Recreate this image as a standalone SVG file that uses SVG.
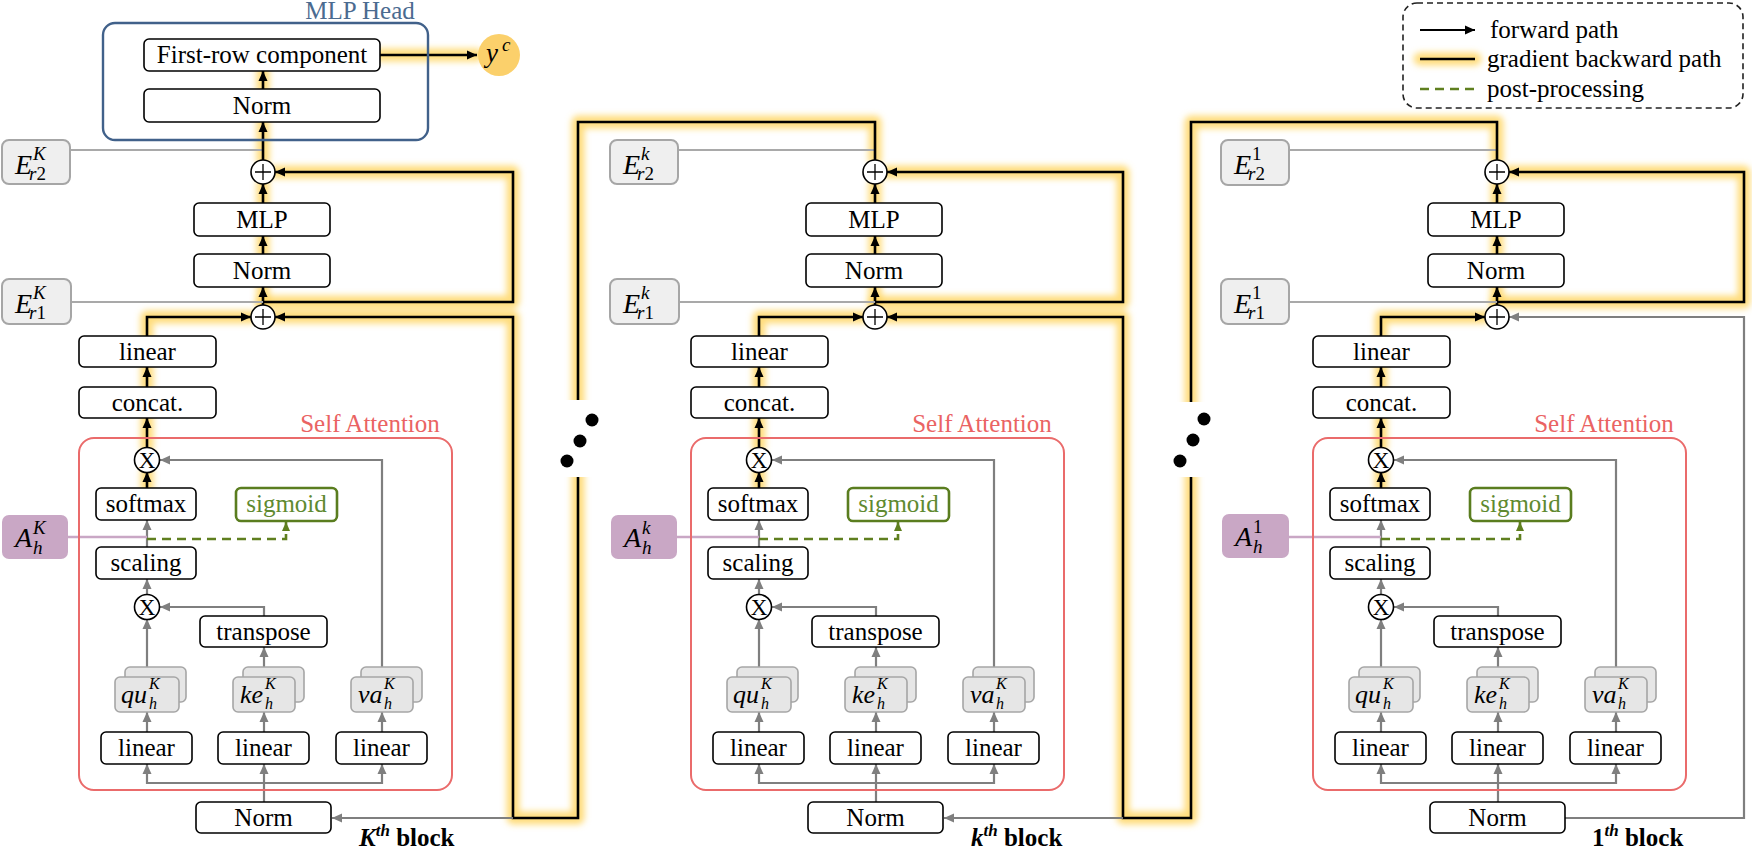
<svg xmlns="http://www.w3.org/2000/svg" xmlns:xlink="http://www.w3.org/1999/xlink" width="1752" height="853" viewBox="0 0 1752 853" font-family="'Liberation Serif', 'Times New Roman', serif">
<style>
text{font-family:"Liberation Serif","Times New Roman",Times,serif;fill:#000}
.lb{font-size:25px;text-anchor:middle}
.bx{fill:#fff;stroke:#000;stroke-width:1.6}
.eb{fill:#efefef;stroke:#a6a6a6;stroke-width:2}
.qb{fill:#e6e6e6;stroke:#a6a6a6;stroke-width:1.6}
.ab{fill:#c9a7c5}
.sa{fill:none;stroke:#ea6b6b;stroke-width:2}
.sal{font-size:25px;fill:#ea6363;text-anchor:middle}
.sg{fill:#fff;stroke:#5a7d1f;stroke-width:2.6}
.sgt{fill:#5f8a30;font-size:25px;text-anchor:middle}
.op{fill:#fff;stroke:#000;stroke-width:1.6}
.opl{stroke:#000;stroke-width:1.3}
.bk{fill:none;stroke:#000;stroke-width:2.6;marker-end:url(#ak)}
.bkn{fill:none;stroke:#000;stroke-width:2.6}
.gr{fill:none;stroke:#7f7f7f;stroke-width:2.2;marker-end:url(#ag)}
.gl{fill:none;stroke:#ffd45c;stroke-opacity:.8;stroke-width:13;stroke-linejoin:round;stroke-linecap:round}
.el{stroke:#a9a9a9;stroke-width:2.2;fill:none}
.al{stroke:#c9a7c5;stroke-width:2.6;fill:none}
.gd{stroke:#5f7f1f;stroke-width:2.6;stroke-dasharray:9 6;fill:none;marker-end:url(#agr)}
.it{font-style:italic}
.up{font-style:normal}
.mb{font-size:28px;font-style:italic}
.sp{font-size:19px}
.qs{font-size:26px;font-style:italic}
.qss{font-size:16px}
.blk{font-size:25px;font-weight:bold}
.lg{font-size:25px}
</style>
<defs>
<marker id="ak" markerUnits="userSpaceOnUse" markerWidth="11" markerHeight="10" refX="10" refY="5" orient="auto"><path d="M0,0.5 L10,5 L0,9.5z" fill="#000"/></marker>
<marker id="ag" markerUnits="userSpaceOnUse" markerWidth="11" markerHeight="10" refX="10" refY="5" orient="auto"><path d="M0,0.5 L10,5 L0,9.5z" fill="#7f7f7f"/></marker>
<marker id="agr" markerUnits="userSpaceOnUse" markerWidth="10" markerHeight="9" refX="9" refY="4.5" orient="auto"><path d="M0,0.5 L9,4.5 L0,8.5z" fill="#5f7f1f"/></marker>
<filter id="blur" filterUnits="userSpaceOnUse" x="-200" y="-200" width="2200" height="1300"><feGaussianBlur stdDeviation="3"/></filter>
<g id="conn-block">
  <g filter="url(#blur)">
    <path class="gl" d="M263,305 V287"/>
    <path class="gl" d="M263,254 V236"/>
    <path class="gl" d="M263,203 V184"/>
    <path class="gl" d="M147,336 V317 H251"/>
    <path class="gl" d="M147,387 V367"/>
    <path class="gl" d="M147,447 V418"/>
    <path class="gl" d="M147,488 V472"/>
  </g>
  <path class="bk" d="M263,305 V287"/>
  <path class="bk" d="M263,254 V236"/>
  <path class="bk" d="M263,203 V184"/>
  <path class="bk" d="M147,336 V317 H251"/>
  <path class="bk" d="M147,387 V367"/>
  <path class="bk" d="M147,447 V418"/>
  <path class="bk" d="M147,488 V472"/>
  <path class="gr" d="M147,547 V520"/>
  <path class="gr" d="M147,594 V579"/>
  <path class="gr" d="M264,616 V607 H160"/>
  <path class="gr" d="M147,667 V619"/>
  <path class="gr" d="M264,667 V647"/>
  <path class="gr" d="M382,667 V460 H160"/>
  <path class="gr" d="M147,732 V712"/>
  <path class="gr" d="M264,732 V712"/>
  <path class="gr" d="M382,732 V712"/>
  <path class="gr" d="M264,802 V764"/>
  <path class="gr" d="M264,783 H147 V764"/>
  <path class="gr" d="M264,783 H382 V764"/>
  <path class="el" d="M40,150 H263"/>
  <path class="el" d="M40,302 H263"/>
  <path class="al" d="M40,537 H147"/>
  <path class="gd" d="M147,539 H286 V522"/>
</g>
</defs>
<rect x="0" y="0" width="1752" height="853" fill="#fff"/>

<g id="connectors">
  <g filter="url(#blur)">
    <path class="gl" d="M263,160 V122"/>
    <path class="gl" d="M263,89 V71"/>
    <path class="gl" d="M380,55 H477"/>
    <path class="gl" d="M263,302 H513 V172 H275"/>
    <path class="gl" d="M875,160 V122 H578 V818 H513 V317 H275"/>
    <path class="gl" d="M875,302 H1123 V172 H887"/>
    <path class="gl" d="M1497,160 V122 H1191 V818 H1123 V317 H887"/>
    <path class="gl" d="M1497,302 H1744 V172 H1509"/>
  </g>
  <use xlink:href="#conn-block" href="#conn-block"/>
  <use xlink:href="#conn-block" href="#conn-block" x="612"/>
  <use xlink:href="#conn-block" href="#conn-block" x="1234"/>
  <path class="bk" d="M263,160 V122"/>
  <path class="bk" d="M263,89 V71"/>
  <path class="bk" d="M380,55 H477"/>
  <path class="bk" d="M263,302 H513 V172 H275"/>
  <path class="bk" d="M875,160 V122 H578 V818 H513 V317 H275"/>
  <path class="bk" d="M875,302 H1123 V172 H887"/>
  <path class="bk" d="M1497,160 V122 H1191 V818 H1123 V317 H887"/>
  <path class="bk" d="M1497,302 H1744 V172 H1509"/>
  <path class="gr" d="M513,818 H332"/>
  <path class="gr" d="M1123,818 H944"/>
  <path class="gr" d="M1565,818 H1744 V317 H1509"/>
</g>

<g id="ellipsis">
  <rect x="557" y="400" width="40" height="77" fill="#fff"/>
  <circle cx="592" cy="420" r="6.5"/>
  <circle cx="580" cy="441" r="6.5"/>
  <circle cx="567" cy="461" r="6.5"/>
  <rect x="1170" y="402" width="40" height="75" fill="#fff"/>
  <circle cx="1204" cy="419" r="6.5"/>
  <circle cx="1193" cy="440" r="6.5"/>
  <circle cx="1180" cy="461" r="6.5"/>
</g>

<g id="mlp-head">
  <rect x="103" y="23" width="325" height="117" rx="12" fill="none" stroke="#41618a" stroke-width="2.4"/>
  <text x="360" y="19" font-size="25" text-anchor="middle" style="fill:#4b6b90">MLP Head</text>
</g>
<g id="first-row"><rect class="bx" x="144" y="39" width="236" height="32" rx="5"/><text class="lb" x="262" y="63">First-row component</text></g>
<g id="head-norm"><rect class="bx" x="144" y="89" width="236" height="33" rx="5"/><text class="lb" x="262" y="114">Norm</text></g>
<g id="yc"><circle cx="499" cy="55" r="21" fill="#fbd06b"/><text x="486" y="62" font-size="27" class="it">y<tspan class="sp" x="502" y="51">c</tspan></text></g>

<!-- Block K -->
<g id="block-K">
  <g id="K-er2"><rect class="eb" x="2" y="140" width="68" height="44" rx="7"/><text x="15" y="174" class="mb">E<tspan class="sp" x="33" y="160">K</tspan><tspan class="sp" x="29" y="180">r<tspan class="up">2</tspan></tspan></text></g>
  <g id="K-plus2"><circle class="op" cx="263" cy="172" r="12"/><path class="opl" d="M255,172 H271 M263,164 V180"/></g>
  <g id="K-mlp"><rect class="bx" x="194" y="203" width="136" height="33" rx="5"/><text class="lb" x="262" y="228">MLP</text></g>
  <g id="K-norm2"><rect class="bx" x="194" y="254" width="136" height="33" rx="5"/><text class="lb" x="262" y="279">Norm</text></g>
  <g id="K-er1"><rect class="eb" x="2" y="279" width="69" height="45" rx="7"/><text x="15" y="313" class="mb">E<tspan class="sp" x="33" y="299">K</tspan><tspan class="sp" x="29" y="319">r<tspan class="up">1</tspan></tspan></text></g>
  <g id="K-plus1"><circle class="op" cx="263" cy="317" r="12"/><path class="opl" d="M255,317 H271 M263,309 V325"/></g>
  <g id="K-linear"><rect class="bx" x="79" y="336" width="137" height="31" rx="5"/><text class="lb" x="147.5" y="360">linear</text></g>
  <g id="K-concat"><rect class="bx" x="79" y="387" width="137" height="31" rx="5"/><text class="lb" x="147.5" y="411">concat.</text></g>
  <g id="K-sa"><rect class="sa" x="79" y="438" width="373" height="352" rx="15"/><text class="sal" x="370" y="432">Self Attention</text></g>
  <g id="K-mul1"><circle class="op" cx="147" cy="460" r="12.5"/><text x="147" y="468" font-size="23" text-anchor="middle">X</text></g>
  <g id="K-softmax"><rect class="bx" x="96" y="488" width="100" height="32" rx="5"/><text class="lb" x="146" y="512">softmax</text></g>
  <g id="K-sigmoid"><rect class="sg" x="236" y="488" width="101" height="33" rx="5"/><text class="sgt" x="286.5" y="512">sigmoid</text></g>
  <g id="K-A"><rect class="ab" x="2" y="515" width="66" height="44" rx="7"/><text x="15" y="547" class="mb">A<tspan class="sp" x="33" y="534">K</tspan><tspan class="sp" x="33" y="554">h</tspan></text></g>
  <g id="K-scaling"><rect class="bx" x="96" y="547" width="100" height="32" rx="5"/><text class="lb" x="146" y="571">scaling</text></g>
  <g id="K-mul2"><circle class="op" cx="147" cy="607" r="12.5"/><text x="147" y="615" font-size="23" text-anchor="middle">X</text></g>
  <g id="K-transpose"><rect class="bx" x="200" y="616" width="127" height="31" rx="5"/><text class="lb" x="263.5" y="640">transpose</text></g>
  <g id="K-qu"><rect class="qb" x="125" y="667" width="61" height="35" rx="5"/><rect class="qb" x="115" y="677" width="64" height="35" rx="5"/><text x="121" y="703" class="qs">qu<tspan class="qss" x="149" y="689">K</tspan><tspan class="qss" x="149" y="709">h</tspan></text></g>
  <g id="K-ke"><rect class="qb" x="243" y="667" width="61" height="35" rx="5"/><rect class="qb" x="233" y="677" width="62" height="35" rx="5"/><text x="240" y="703" class="qs">ke<tspan class="qss" x="265" y="689">K</tspan><tspan class="qss" x="265" y="709">h</tspan></text></g>
  <g id="K-va"><rect class="qb" x="361" y="667" width="61" height="35" rx="5"/><rect class="qb" x="351" y="677" width="62" height="35" rx="5"/><text x="358" y="703" class="qs">va<tspan class="qss" x="384" y="689">K</tspan><tspan class="qss" x="384" y="709">h</tspan></text></g>
  <g id="K-linq"><rect class="bx" x="101" y="732" width="91" height="32" rx="5"/><text class="lb" x="146.5" y="756">linear</text></g>
  <g id="K-link"><rect class="bx" x="218" y="732" width="91" height="32" rx="5"/><text class="lb" x="263.5" y="756">linear</text></g>
  <g id="K-linv"><rect class="bx" x="336" y="732" width="91" height="32" rx="5"/><text class="lb" x="381.5" y="756">linear</text></g>
  <g id="K-norm1"><rect class="bx" x="196" y="802" width="135" height="31" rx="5"/><text class="lb" x="263.5" y="826">Norm</text></g>
  <g id="K-label"><text x="359" y="846" class="blk"><tspan class="it">K</tspan><tspan class="it" font-size="17" dy="-10">th</tspan><tspan dy="10"> block</tspan></text></g>
</g>

<!-- Block k -->
<g id="block-k" transform="translate(612,0)">
  <g id="k-er2"><rect class="eb" x="-2" y="140" width="68" height="44" rx="7"/><text x="11" y="174" class="mb">E<tspan class="sp" x="29" y="160">k</tspan><tspan class="sp" x="25" y="180">r<tspan class="up">2</tspan></tspan></text></g>
  <g id="k-plus2"><circle class="op" cx="263" cy="172" r="12"/><path class="opl" d="M255,172 H271 M263,164 V180"/></g>
  <g id="k-mlp"><rect class="bx" x="194" y="203" width="136" height="33" rx="5"/><text class="lb" x="262" y="228">MLP</text></g>
  <g id="k-norm2"><rect class="bx" x="194" y="254" width="136" height="33" rx="5"/><text class="lb" x="262" y="279">Norm</text></g>
  <g id="k-er1"><rect class="eb" x="-2" y="279" width="69" height="45" rx="7"/><text x="11" y="313" class="mb">E<tspan class="sp" x="29" y="299">k</tspan><tspan class="sp" x="25" y="319">r<tspan class="up">1</tspan></tspan></text></g>
  <g id="k-plus1"><circle class="op" cx="263" cy="317" r="12"/><path class="opl" d="M255,317 H271 M263,309 V325"/></g>
  <g id="k-linear"><rect class="bx" x="79" y="336" width="137" height="31" rx="5"/><text class="lb" x="147.5" y="360">linear</text></g>
  <g id="k-concat"><rect class="bx" x="79" y="387" width="137" height="31" rx="5"/><text class="lb" x="147.5" y="411">concat.</text></g>
  <g id="k-sa"><rect class="sa" x="79" y="438" width="373" height="352" rx="15"/><text class="sal" x="370" y="432">Self Attention</text></g>
  <g id="k-mul1"><circle class="op" cx="147" cy="460" r="12.5"/><text x="147" y="468" font-size="23" text-anchor="middle">X</text></g>
  <g id="k-softmax"><rect class="bx" x="96" y="488" width="100" height="32" rx="5"/><text class="lb" x="146" y="512">softmax</text></g>
  <g id="k-sigmoid"><rect class="sg" x="236" y="488" width="101" height="33" rx="5"/><text class="sgt" x="286.5" y="512">sigmoid</text></g>
  <g id="k-A"><rect class="ab" x="-1" y="515" width="66" height="44" rx="7"/><text x="12" y="547" class="mb">A<tspan class="sp" x="30" y="534">k</tspan><tspan class="sp" x="30" y="554">h</tspan></text></g>
  <g id="k-scaling"><rect class="bx" x="96" y="547" width="100" height="32" rx="5"/><text class="lb" x="146" y="571">scaling</text></g>
  <g id="k-mul2"><circle class="op" cx="147" cy="607" r="12.5"/><text x="147" y="615" font-size="23" text-anchor="middle">X</text></g>
  <g id="k-transpose"><rect class="bx" x="200" y="616" width="127" height="31" rx="5"/><text class="lb" x="263.5" y="640">transpose</text></g>
  <g id="k-qu"><rect class="qb" x="125" y="667" width="61" height="35" rx="5"/><rect class="qb" x="115" y="677" width="64" height="35" rx="5"/><text x="121" y="703" class="qs">qu<tspan class="qss" x="149" y="689">K</tspan><tspan class="qss" x="149" y="709">h</tspan></text></g>
  <g id="k-ke"><rect class="qb" x="243" y="667" width="61" height="35" rx="5"/><rect class="qb" x="233" y="677" width="62" height="35" rx="5"/><text x="240" y="703" class="qs">ke<tspan class="qss" x="265" y="689">K</tspan><tspan class="qss" x="265" y="709">h</tspan></text></g>
  <g id="k-va"><rect class="qb" x="361" y="667" width="61" height="35" rx="5"/><rect class="qb" x="351" y="677" width="62" height="35" rx="5"/><text x="358" y="703" class="qs">va<tspan class="qss" x="384" y="689">K</tspan><tspan class="qss" x="384" y="709">h</tspan></text></g>
  <g id="k-linq"><rect class="bx" x="101" y="732" width="91" height="32" rx="5"/><text class="lb" x="146.5" y="756">linear</text></g>
  <g id="k-link"><rect class="bx" x="218" y="732" width="91" height="32" rx="5"/><text class="lb" x="263.5" y="756">linear</text></g>
  <g id="k-linv"><rect class="bx" x="336" y="732" width="91" height="32" rx="5"/><text class="lb" x="381.5" y="756">linear</text></g>
  <g id="k-norm1"><rect class="bx" x="196" y="802" width="135" height="31" rx="5"/><text class="lb" x="263.5" y="826">Norm</text></g>
  <g id="k-label"><text x="359" y="846" class="blk"><tspan class="it">k</tspan><tspan class="it" font-size="17" dy="-10">th</tspan><tspan dy="10"> block</tspan></text></g>
</g>

<!-- Block 1 -->
<g id="block-1" transform="translate(1234,0)">
  <g id="b1-er2"><rect class="eb" x="-13" y="140" width="68" height="45" rx="7"/><text x="0" y="174" class="mb">E<tspan class="sp up" x="18" y="160">1</tspan><tspan class="sp" x="14" y="180">r<tspan class="up">2</tspan></tspan></text></g>
  <g id="b1-plus2"><circle class="op" cx="263" cy="172" r="12"/><path class="opl" d="M255,172 H271 M263,164 V180"/></g>
  <g id="b1-mlp"><rect class="bx" x="194" y="203" width="136" height="33" rx="5"/><text class="lb" x="262" y="228">MLP</text></g>
  <g id="b1-norm2"><rect class="bx" x="194" y="254" width="136" height="33" rx="5"/><text class="lb" x="262" y="279">Norm</text></g>
  <g id="b1-er1"><rect class="eb" x="-13" y="279" width="68" height="45" rx="7"/><text x="0" y="313" class="mb">E<tspan class="sp up" x="18" y="299">1</tspan><tspan class="sp" x="14" y="319">r<tspan class="up">1</tspan></tspan></text></g>
  <g id="b1-plus1"><circle class="op" cx="263" cy="317" r="12"/><path class="opl" d="M255,317 H271 M263,309 V325"/></g>
  <g id="b1-linear"><rect class="bx" x="79" y="336" width="137" height="31" rx="5"/><text class="lb" x="147.5" y="360">linear</text></g>
  <g id="b1-concat"><rect class="bx" x="79" y="387" width="137" height="31" rx="5"/><text class="lb" x="147.5" y="411">concat.</text></g>
  <g id="b1-sa"><rect class="sa" x="79" y="438" width="373" height="352" rx="15"/><text class="sal" x="370" y="432">Self Attention</text></g>
  <g id="b1-mul1"><circle class="op" cx="147" cy="460" r="12.5"/><text x="147" y="468" font-size="23" text-anchor="middle">X</text></g>
  <g id="b1-softmax"><rect class="bx" x="96" y="488" width="100" height="32" rx="5"/><text class="lb" x="146" y="512">softmax</text></g>
  <g id="b1-sigmoid"><rect class="sg" x="236" y="488" width="101" height="33" rx="5"/><text class="sgt" x="286.5" y="512">sigmoid</text></g>
  <g id="b1-A"><rect class="ab" x="-12" y="514" width="67" height="44" rx="7"/><text x="1" y="546" class="mb">A<tspan class="sp up" x="19" y="533">1</tspan><tspan class="sp" x="19" y="553">h</tspan></text></g>
  <g id="b1-scaling"><rect class="bx" x="96" y="547" width="100" height="32" rx="5"/><text class="lb" x="146" y="571">scaling</text></g>
  <g id="b1-mul2"><circle class="op" cx="147" cy="607" r="12.5"/><text x="147" y="615" font-size="23" text-anchor="middle">X</text></g>
  <g id="b1-transpose"><rect class="bx" x="200" y="616" width="127" height="31" rx="5"/><text class="lb" x="263.5" y="640">transpose</text></g>
  <g id="b1-qu"><rect class="qb" x="125" y="667" width="61" height="35" rx="5"/><rect class="qb" x="115" y="677" width="64" height="35" rx="5"/><text x="121" y="703" class="qs">qu<tspan class="qss" x="149" y="689">K</tspan><tspan class="qss" x="149" y="709">h</tspan></text></g>
  <g id="b1-ke"><rect class="qb" x="243" y="667" width="61" height="35" rx="5"/><rect class="qb" x="233" y="677" width="62" height="35" rx="5"/><text x="240" y="703" class="qs">ke<tspan class="qss" x="265" y="689">K</tspan><tspan class="qss" x="265" y="709">h</tspan></text></g>
  <g id="b1-va"><rect class="qb" x="361" y="667" width="61" height="35" rx="5"/><rect class="qb" x="351" y="677" width="62" height="35" rx="5"/><text x="358" y="703" class="qs">va<tspan class="qss" x="384" y="689">K</tspan><tspan class="qss" x="384" y="709">h</tspan></text></g>
  <g id="b1-linq"><rect class="bx" x="101" y="732" width="91" height="32" rx="5"/><text class="lb" x="146.5" y="756">linear</text></g>
  <g id="b1-link"><rect class="bx" x="218" y="732" width="91" height="32" rx="5"/><text class="lb" x="263.5" y="756">linear</text></g>
  <g id="b1-linv"><rect class="bx" x="336" y="732" width="91" height="32" rx="5"/><text class="lb" x="381.5" y="756">linear</text></g>
  <g id="b1-norm1"><rect class="bx" x="196" y="802" width="135" height="31" rx="5"/><text class="lb" x="263.5" y="826">Norm</text></g>
  <g id="b1-label"><text x="358" y="846" class="blk">1<tspan class="it" font-size="17" dy="-10">th</tspan><tspan dy="10"> block</tspan></text></g>
</g>

<g id="legend">
  <rect x="1403" y="3" width="340" height="105" rx="14" fill="none" stroke="#222" stroke-width="1.6" stroke-dasharray="6 4"/>
  <path d="M1420,30 H1475" fill="none" stroke="#000" stroke-width="2" marker-end="url(#ak)"/>
  <text x="1490" y="38" class="lg">forward path</text>
  <path class="gl" d="M1420,59 H1475" filter="url(#blur)"/>
  <path class="bkn" d="M1420,59 H1475"/>
  <text x="1487" y="67" class="lg">gradient backward path</text>
  <path d="M1420,89 H1475" fill="none" stroke="#5f7f1f" stroke-width="2.6" stroke-dasharray="9 6"/>
  <text x="1487" y="97" class="lg">post-processing</text>
</g>
</svg>
